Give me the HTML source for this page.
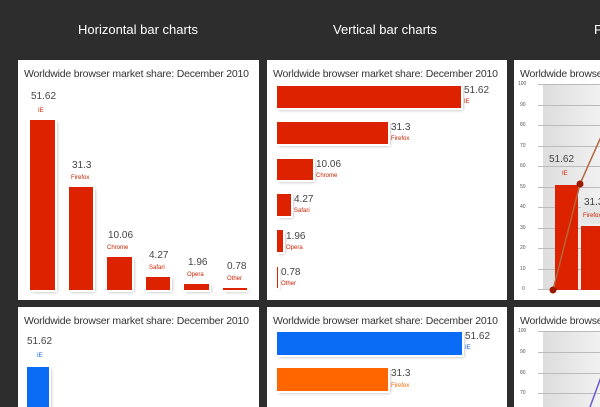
<!DOCTYPE html>
<html><head><style>
body{margin:0;width:600px;height:400px;background:#2d2d2d;position:relative;overflow:hidden;font-family:"Liberation Sans",Arial,sans-serif}
.h{position:absolute;top:22px;color:#fff;font-size:13px;white-space:nowrap}
.p{position:absolute;background:#fff;overflow:hidden}
.t{position:absolute;left:6px;top:8px;font-size:10.5px;color:#333;white-space:nowrap;letter-spacing:-0.2px}
.b{position:absolute;background:#dd2200;box-shadow:2px 2px 3px rgba(0,0,0,.35);outline:2px solid #fff}
.v{position:absolute;font-size:10px;color:#444;white-space:nowrap}
.n{position:absolute;font-size:6px;color:#cc2200;white-space:nowrap}
.tk{position:absolute;font-size:5px;color:#555}
.g{position:absolute;height:1px;background:#bbb}
</style></head><body>
<div class="h" style="left:78px">Horizontal bar charts</div>
<div class="h" style="left:333px">Vertical bar charts</div>
<div class="h" style="left:594px">P</div>

<!-- panel 1 -->
<div class="p" style="left:18px;top:60px;width:241px;height:240px">
<div class="t">Worldwide browser market share: December 2010</div>
<div class="v" style="left:13px;top:31px">51.62</div><div class="n" style="left:20px;top:48px">IE</div>
<div class="b" style="left:12px;top:60px;width:25px;height:170px"></div>
<div class="v" style="left:54px;top:100px">31.3</div><div class="n" style="left:53px;top:115px">Firefox</div>
<div class="b" style="left:51px;top:127px;width:24px;height:103px"></div>
<div class="v" style="left:90px;top:170px">10.06</div><div class="n" style="left:89px;top:185px">Chrome</div>
<div class="b" style="left:89px;top:197px;width:25px;height:33px"></div>
<div class="v" style="left:131px;top:190px">4.27</div><div class="n" style="left:131px;top:205px">Safari</div>
<div class="b" style="left:128px;top:217px;width:24px;height:13px"></div>
<div class="v" style="left:170px;top:197px">1.96</div><div class="n" style="left:169px;top:212px">Opera</div>
<div class="b" style="left:166px;top:224px;width:25px;height:6px"></div>
<div class="v" style="left:209px;top:201px">0.78</div><div class="n" style="left:209px;top:216px">Other</div>
<div class="b" style="left:205px;top:228px;width:24px;height:2px"></div>
</div>

<!-- panel 2 -->
<div class="p" style="left:267px;top:60px;width:240px;height:240px">
<div class="t">Worldwide browser market share: December 2010</div>
<div class="b" style="left:10px;top:26px;width:184px;height:22px"></div>
<div class="v" style="left:197px;top:25px">51.62</div><div class="n" style="left:197px;top:39px">IE</div>
<div class="b" style="left:10px;top:62px;width:111px;height:22px"></div>
<div class="v" style="left:124px;top:62px">31.3</div><div class="n" style="left:124px;top:76px">Firefox</div>
<div class="b" style="left:10px;top:99px;width:36px;height:21px"></div>
<div class="v" style="left:49px;top:99px">10.06</div><div class="n" style="left:49px;top:113px">Chrome</div>
<div class="b" style="left:10px;top:134px;width:14px;height:22px"></div>
<div class="v" style="left:27px;top:134px">4.27</div><div class="n" style="left:27px;top:148px">Safari</div>
<div class="b" style="left:10px;top:170px;width:6px;height:22px"></div>
<div class="v" style="left:19px;top:171px">1.96</div><div class="n" style="left:19px;top:185px">Opera</div>
<div class="b" style="left:10px;top:207px;width:1px;height:21px"></div>
<div class="v" style="left:14px;top:207px">0.78</div><div class="n" style="left:14px;top:221px">Other</div>
</div>

<!-- panel 3 -->
<div class="p" style="left:514px;top:60px;width:90px;height:240px">
<div class="t">Worldwide browser market share: December 2010</div>
<div style="position:absolute;left:29px;top:24px;width:70px;height:206px;background:linear-gradient(90deg,#ddd,#f6f6f6)"></div>
<div class="g" style="left:24px;top:24px;width:70px"></div><div class="g" style="left:24px;top:45px;width:70px"></div><div class="g" style="left:24px;top:65px;width:70px"></div><div class="g" style="left:24px;top:86px;width:70px"></div><div class="g" style="left:24px;top:106px;width:70px"></div><div class="g" style="left:24px;top:127px;width:70px"></div><div class="g" style="left:24px;top:147px;width:70px"></div><div class="g" style="left:24px;top:168px;width:70px"></div><div class="g" style="left:24px;top:188px;width:70px"></div><div class="g" style="left:24px;top:209px;width:70px"></div><div class="g" style="left:24px;top:229px;width:70px"></div>
<div class="tk" style="left:4px;top:21px">100</div><div class="tk" style="left:6px;top:42px">90</div><div class="tk" style="left:6px;top:62px">80</div><div class="tk" style="left:6px;top:83px">70</div><div class="tk" style="left:6px;top:103px">60</div><div class="tk" style="left:6px;top:124px">50</div><div class="tk" style="left:6px;top:144px">40</div><div class="tk" style="left:6px;top:165px">30</div><div class="tk" style="left:6px;top:185px">20</div><div class="tk" style="left:6px;top:206px">10</div><div class="tk" style="left:8px;top:226px">0</div>
<div style="position:absolute;left:41px;top:125px;width:23px;height:105px;background:#dd2200"></div>
<div style="position:absolute;left:67px;top:166px;width:30px;height:64px;background:#dd2200"></div>
<div style="position:absolute;left:67px;top:142px;width:30px;height:22px;background:#e6e6e6"></div>
<div class="v" style="left:35px;top:94px">51.62</div><div class="n" style="left:48px;top:111px">IE</div>
<div class="v" style="left:70px;top:137px">31.3</div><div class="n" style="left:69px;top:153px">Firefox</div>
<svg style="position:absolute;left:0;top:0" width="90" height="240"><polyline points="39,230 66,124 90,70" fill="none" stroke="#b5653f" stroke-width="1.5"/><circle cx="39" cy="230" r="3.5" fill="#991a00"/><circle cx="66" cy="124" r="3.5" fill="#991a00"/></svg>
</div>

<!-- row 2 -->
<div class="p" style="left:18px;top:307px;width:241px;height:100px">
<div class="t">Worldwide browser market share: December 2010</div>
<div class="v" style="left:9px;top:29px">51.62</div><div class="n" style="left:19px;top:46px;color:#1166dd">IE</div>
<div class="b" style="left:9px;top:60px;width:22px;height:60px;background:#0a6cf5"></div>
</div>
<div class="p" style="left:267px;top:307px;width:240px;height:100px">
<div class="t">Worldwide browser market share: December 2010</div>
<div class="b" style="left:10px;top:25px;width:185px;height:23px;background:#0a6cf5"></div>
<div class="v" style="left:198px;top:24px">51.62</div><div class="n" style="left:198px;top:38px;color:#1166dd">IE</div>
<div class="b" style="left:10px;top:61px;width:111px;height:23px;background:#ff6600"></div>
<div class="v" style="left:124px;top:61px">31.3</div><div class="n" style="left:124px;top:76px;color:#ff6600">Firefox</div>
</div>
<div class="p" style="left:514px;top:307px;width:90px;height:100px">
<div class="t">Worldwide browser market share: December 2010</div>
<div style="position:absolute;left:29px;top:24px;width:70px;height:80px;background:linear-gradient(90deg,#ddd,#f6f6f6)"></div>
<div class="g" style="left:24px;top:24px;width:70px"></div><div class="g" style="left:24px;top:45px;width:70px"></div><div class="g" style="left:24px;top:66px;width:70px"></div><div class="g" style="left:24px;top:86px;width:70px"></div>
<div class="tk" style="left:4px;top:21px">100</div><div class="tk" style="left:6px;top:42px">90</div><div class="tk" style="left:6px;top:63px">80</div><div class="tk" style="left:6px;top:83px">70</div>
<svg style="position:absolute;left:0;top:0" width="90" height="100"><line x1="90" y1="62" x2="76" y2="100" stroke="#6a5acd" stroke-width="1.5"/></svg>
</div>
</body></html>
